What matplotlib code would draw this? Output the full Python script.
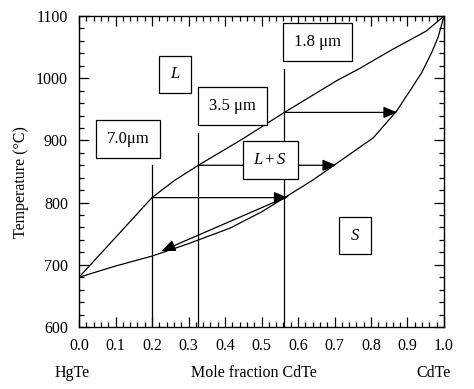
import matplotlib.pyplot as plt
from matplotlib.ticker import MultipleLocator
import numpy as np

# liquidus and solidus
liq_x = [0.0, 0.05, 0.094, 0.15, 0.2, 0.26, 0.327, 0.45, 0.56, 0.706, 0.77, 0.852, 0.952, 1.0]
liq_t = [680, 712, 740, 776, 808, 835, 860, 903, 944, 996, 1016, 1044, 1076, 1100]
sol_x = [0.0, 0.1, 0.2, 0.3, 0.414, 0.5, 0.569, 0.64, 0.701, 0.806, 0.87, 0.907, 0.939, 0.966, 0.984, 1.0]
sol_t = [680, 698, 714, 734, 759, 785, 810, 836, 861, 904, 947, 980, 1009, 1041, 1066, 1100]

# vertical composition lines: x, top temperature
vert_x = [0.2, 0.327, 0.562]
vert_top = [861, 912, 1015]

# arrows: (x0, t0) -> (x1, t1)
arrows = [
    ((0.562, 945), (0.872, 945)),
    ((0.327, 860), (0.705, 860)),
    ((0.2, 808), (0.572, 808)),
    ((0.572, 810), (0.226, 722)),
]

labels = ["$L$", "3.5 μm", "7.0μm", "1.8 μm", "$L+S$", "$S$"]
label_pos = [(0.263, 1006), (0.42, 955), (0.135, 902), (0.653, 1058), (0.524, 869), (0.756, 747)]

plt.rcParams['font.family'] = ['Liberation Serif', 'DejaVu Serif']
plt.rcParams['mathtext.fontset'] = 'custom'
plt.rcParams['mathtext.it'] = 'Liberation Serif:italic'
plt.rcParams['mathtext.rm'] = 'Liberation Serif'

fig = plt.figure(figsize=(4.74, 3.89), dpi=100)
ax = fig.add_axes([0.1667, 0.1594, 0.77, 0.7995])

lw = 0.9
ax.plot(liq_x, liq_t, color="black", lw=lw)
ax.plot(sol_x, sol_t, color="black", lw=lw)

for x, top in zip(vert_x, vert_top):
    ax.plot([x, x], [600, top], color="black", lw=lw)

for (x0, t0), (x1, t1) in arrows:
    ax.annotate("", xy=(x1, t1), xytext=(x0, t0),
                arrowprops=dict(arrowstyle="-|>,head_length=0.6,head_width=0.25",
                                color="black", lw=lw, mutation_scale=14,
                                shrinkA=0, shrinkB=0))

for txt, (x, t) in zip(labels, label_pos):
    ax.text(x, t, txt, ha="center", va="center", fontsize=12,
            bbox=dict(boxstyle="square,pad=0.65", fc="white", ec="black", lw=0.9))

ax.set_xlim(0, 1)
ax.set_ylim(600, 1100)
ax.xaxis.set_major_locator(MultipleLocator(0.1))
ax.xaxis.set_minor_locator(MultipleLocator(0.02))
ax.yaxis.set_major_locator(MultipleLocator(100))
ax.yaxis.set_minor_locator(MultipleLocator(20))
ax.xaxis.set_major_formatter(plt.FuncFormatter(lambda v, p: "%.1f" % v))
ax.tick_params(which="both", direction="in", top=True, right=True, labelsize=11.5, width=0.9)
ax.tick_params(which="major", length=7, pad=8)
ax.tick_params(which="minor", length=3.5)
for s in ax.spines.values():
    s.set_linewidth(1.0)

ax.set_ylabel("Temperature (°C)", fontsize=11.5)
ax.yaxis.set_label_coords(-0.138, 0.465)
ax.text(-0.02, -0.148, "HgTe", transform=ax.transAxes, ha="center", va="center", fontsize=11.5)
ax.text(0.48, -0.148, "Mole fraction CdTe", transform=ax.transAxes, ha="center", va="center", fontsize=11.5)
ax.text(0.97, -0.148, "CdTe", transform=ax.transAxes, ha="center", va="center", fontsize=11.5)

fig.savefig("out.png", dpi=100)
